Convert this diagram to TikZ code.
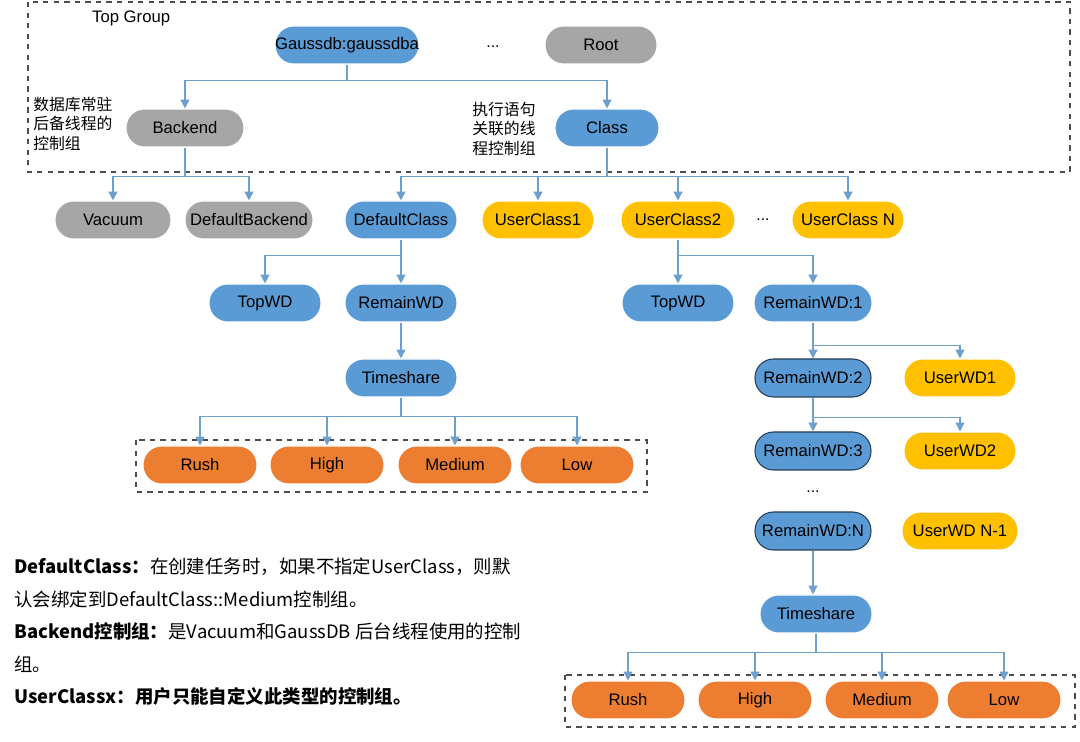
\documentclass[tikz,border=0pt]{standalone}
\usepackage{fontspec}
\setmainfont{Liberation Sans}
\newfontfamily\cjk{Noto Sans CJK SC}
\usetikzlibrary{arrows.meta, positioning}
\definecolor{accentblue}{RGB}{91, 155, 213}
\definecolor{accentgray}{RGB}{166, 166, 166}
\definecolor{accentyellow}{RGB}{255, 192, 0}
\definecolor{accentorange}{RGB}{237, 125, 49}
\definecolor{linkblue}{RGB}{110, 160, 205}
\begin{document}
\begin{tikzpicture}[x=0.02cm, y=-0.02cm,
    box/.style={rounded corners=0.37cm, minimum height=0.76cm, inner sep=0pt, font=\fontsize{9.5}{10}\selectfont, draw=white, line width=0.6pt},
    bnode/.style={box, fill=accentblue},
    gnode/.style={box, fill=accentgray},
    ynode/.style={box, fill=accentyellow},
    onode/.style={box, fill=accentorange},
    dnode/.style={box, fill=accentblue, draw=black!60!accentblue},
    link/.style={draw=linkblue, thick, -{Triangle[length=5pt, width=5pt]}},
    group/.style={draw=black!70, dashed, thick},
    note/.style={font=\cjk\fontsize{9}{11}\selectfont, align=left, inner sep=0pt}]
    \useasboundingbox (0,0) rectangle (1080,742);
    % top group
    \draw[group] (28,2) rectangle (1070,172);
    \node[anchor=west, font=\fontsize{9.5}{10}\selectfont] (toplabel) at (86,18) {Top Group};
    \node[bnode, minimum width=2.64cm] (gauss) at (347,45) {Gaussdb:gaussdba};
    \node (dots1) at (493,47) {\small ...};
    \node[gnode, minimum width=2.24cm] (root) at (601,45) {Root};
    \node[gnode, minimum width=2.36cm] (backend) at (185,128) {Backend};
    \node[bnode, minimum width=2.08cm] (class) at (607,128) {Class};
    \node[note, anchor=north west] (bknote) at (33,97) {数据库常驻\\后备线程的\\控制组};
    \node[note, anchor=north west] (clnote) at (472,102) {执行语句\\关联的线\\程控制组};
    % second level
    \node[gnode, minimum width=2.32cm] (vacuum) at (113,220) {Vacuum};
    \node[gnode, minimum width=2.56cm] (defbk) at (249,220) {DefaultBackend};
    \node[bnode, minimum width=2.24cm] (defcls) at (401,220) {DefaultClass};
    \node[ynode, minimum width=2.24cm] (ucls1) at (538,220) {UserClass1};
    \node[ynode, minimum width=2.28cm] (ucls2) at (678,220) {UserClass2};
    \node (dots2) at (763,220) {\small ...};
    \node[ynode, minimum width=2.24cm] (uclsn) at (848,220) {UserClass N};
    \draw[link] (gauss.south) -- ++(0,16) -| (backend.north);
    \draw[link] (gauss.south) -- ++(0,16) -| (class.north);
    \draw[link] (backend.south) -- ++(0,29) -| (vacuum.north);
    \draw[link] (backend.south) -- ++(0,29) -| (defbk.north);
    \foreach \c in {defcls, ucls1, ucls2, uclsn}
        \draw[link] (class.south) -- ++(0,29) -| (\c.north);
    % default class branch
    \node[bnode, minimum width=2.24cm] (topwd1) at (265,303) {TopWD};
    \node[bnode, minimum width=2.24cm] (remwd) at (401,303) {RemainWD};
    \node[bnode, minimum width=2.24cm] (tshare1) at (401,378) {Timeshare};
    \draw[link] (defcls.south) -- ++(0,16) -| (topwd1.north);
    \draw[link] (defcls.south) -- (remwd.north);
    \draw[link] (remwd.south) -- (tshare1.north);
    \draw[group] (136,440) rectangle (647,492);
    \foreach \n/\t/\x in {rusha/Rush/200, higha/High/327, mediuma/Medium/455, lowa/Low/577} {
        \node[onode, minimum width=2.28cm] (\n) at (\x,465) {\t};
        \draw[link] (tshare1.south) -- ++(0,19) -| (\n.north);
    }
    % user class branch
    \node[bnode, minimum width=2.24cm] (topwd2) at (678,303) {TopWD};
    \node[bnode, minimum width=2.36cm] (rem1) at (813,303) {RemainWD:1};
    \draw[link] (ucls2.south) -- ++(0,16) -| (topwd2.north);
    \draw[link] (ucls2.south) -- ++(0,16) -| (rem1.north);
    \node[dnode, minimum width=2.32cm] (rem2) at (813,378) {RemainWD:2};
    \node[ynode, minimum width=2.24cm] (uwd1) at (960,378) {UserWD1};
    \node[dnode, minimum width=2.32cm] (rem3) at (813,451) {RemainWD:3};
    \node[ynode, minimum width=2.24cm] (uwd2) at (960,451) {UserWD2};
    \node (dots3) at (813,492) {\small ...};
    \node[dnode, minimum width=2.32cm] (remn) at (813,531) {RemainWD:N};
    \node[ynode, minimum width=2.32cm] (uwdn) at (960,531) {UserWD N-1};
    \draw[link] (rem1.south) -- (rem2.north);
    \draw[link] (rem1.south) -- ++(0,23) -| (uwd1.north);
    \draw[link] (rem2.south) -- (rem3.north);
    \draw[link] (rem2.south) -- ++(0,20) -| (uwd2.north);
    \node[bnode, minimum width=2.24cm] (tshare2) at (816,614) {Timeshare};
    \draw[link] (remn.south) -- (remn.south |- tshare2.north);
    \draw[group] (565,675) rectangle (1075,727);
    \foreach \n/\t/\x in {rushb/Rush/628, highb/High/755, mediumb/Medium/882, lowb/Low/1004} {
        \node[onode, minimum width=2.28cm] (\n) at (\x,700) {\t};
        \draw[link] (tshare2.south) -- ++(0,19) -| (\n.north);
    }
    % notes
    \node[font=\cjk\fontsize{10.5}{12}\selectfont, anchor=north west, align=left, inner sep=0pt] (legend) at (14,558)
        {\textbf{DefaultClass：}在创建任务时，如果不指定UserClass，则默\\[6.5pt]
         认会绑定到DefaultClass::Medium控制组。\\[6.5pt]
         \textbf{Backend控制组：}是Vacuum和GaussDB 后台线程使用的控制\\[6.5pt]
         组。\\[6.5pt]
         \textbf{UserClassx：用户只能自定义此类型的控制组。}};
\end{tikzpicture}
\end{document}
